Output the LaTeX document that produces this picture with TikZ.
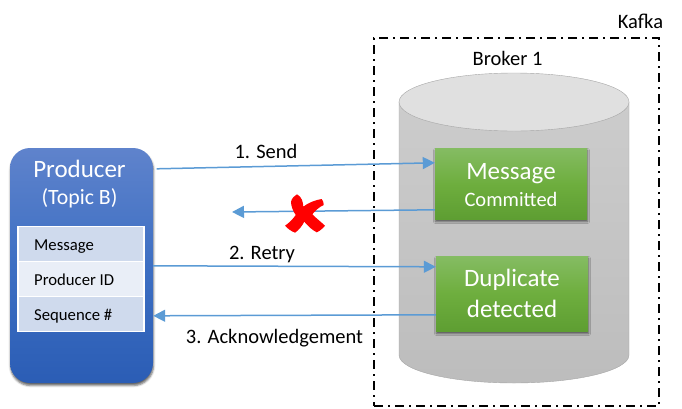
\documentclass[tikz,border=0pt]{standalone}
\usepackage{fontspec}
\setmainfont{Carlito}
\usetikzlibrary{arrows.meta,shadows.blur}

\tikzset{
  flowline/.style={draw=flowblue, line width=1.5pt, -{Triangle[length=12pt, width=12pt]}},
  softshadow/.style={blur shadow={shadow xshift=0.5pt, shadow yshift=-2.5pt, shadow blur radius=2pt, shadow opacity=60}},
  greenbox/.style={draw=none, minimum width=152pt, text=white, align=center, softshadow,
    top color=greentop, bottom color=greenbottom, middle color=greenmid, inner sep=0pt},
  fieldrow/.style={draw=white, line width=1.5pt, minimum width=126pt, minimum height=35pt, inner sep=0pt},
  flowlabel/.style={font=\fontsize{20.5}{24}\selectfont, inner sep=0pt, anchor=base},
  bigtext/.style={white, font=\fontsize{25}{30}\selectfont, inner sep=0pt, anchor=base},
  rowtext/.style={anchor=base west, font=\fontsize{16.7}{20}\selectfont, inner sep=0pt},
}
\definecolor{flowblue}{HTML}{5B9BD5}
\definecolor{greentop}{HTML}{85BC63}
\definecolor{greenmid}{HTML}{6EAE3E}
\definecolor{greenbottom}{HTML}{5E9E32}
\definecolor{prodtop}{HTML}{5F83CC}
\definecolor{prodmid}{HTML}{3D6FC3}
\definecolor{prodbottom}{HTML}{2B5DB5}
\definecolor{rowdark}{HTML}{CFDAED}
\definecolor{rowlight}{HTML}{E9EEF7}
\definecolor{drumedge}{HTML}{A6A6A6}

\begin{document}
\begin{tikzpicture}[x=1pt, y=-1pt]
        \useasboundingbox (0, 0) rectangle (682, 408);

        % kafka frame
        \node[draw, line width=2pt, dash pattern=on 9pt off 5pt on 2pt off 5pt, minimum width=285pt, minimum height=368pt, inner sep=0pt] (kafka) at (516.5, 222) {};
        \node[flowlabel] (kafkalabel) at (640.5, 28) {Kafka};
        \node[flowlabel] (brokerlabel) at (507.5, 65) {Broker 1};

        % broker drum
        \path[draw=drumedge, top color=black!20, bottom color=black!26] (399, 102) -- (399, 355) arc(180:0:115 and 28) -- (629, 102) -- cycle;
        \draw[draw=drumedge, fill=black!12] (514, 102) ellipse (115 and 29);

        % broker boxes
        \node[greenbox, minimum height=71pt] (message) at (511, 183.5) {};
        \node[bigtext] (messagetext) at (511, 179) {Message};
        \node[flowlabel, white] (committed) at (511, 206) {Committed};
        \node[greenbox, minimum height=75pt] (duplicate) at (512, 293.5) {};
        \node[bigtext] (duplicatetext) at (512, 286) {Duplicate};
        \node[bigtext] (detectedtext) at (512, 317) {detected};

        % producer
        \node[rounded corners=20pt, minimum width=143pt, minimum height=235pt, softshadow, inner sep=0pt,
              top color=prodtop, bottom color=prodbottom, middle color=prodmid] (producer) at (81.5, 265.5) {};
        \node[bigtext] (producertext) at (79.5, 177) {Producer};
        \node[white, font=\fontsize{21.8}{26}\selectfont, inner sep=0pt, anchor=base] (topic) at (79.5, 204) {(Topic B)};

        \node[fieldrow, fill=rowdark] (rowmessage) at (81, 244) {};
        \node[fieldrow, fill=rowlight] (rowid) at (81, 279) {};
        \node[fieldrow, fill=rowdark] (rowsequence) at (81, 314) {};
        \node[rowtext] (textmessage) at (34, 250) {Message};
        \node[rowtext] (textid) at (34, 285) {Producer ID};
        \node[rowtext] (textsequence) at (34, 320) {Sequence \#};

        % flows
        \coordinate (lost) at (232, 212);
        \draw[flowline] ([xshift=3.5pt, yshift=-21pt]producer.north east) -- ([yshift=-15pt]message.north west);
        \draw[flowline] ([yshift=-62pt]message.north west) -- (lost);
        \draw[flowline] ([yshift=-118pt]producer.north east) -- ([yshift=-11pt]duplicate.north west);
        \draw[flowline] ([yshift=-59pt]duplicate.north west) -- ([yshift=-168pt]producer.north east);

        \node[flowlabel] (sendlabel) at (266, 158) {1. Send};
        \node[flowlabel] (retrylabel) at (262, 259) {2. Retry};
        \node[flowlabel] (acklabel) at (274.5, 343) {3. Acknowledgement};

        % red cross
        \fill[red] (297, 194.3) .. controls (302, 197) and (303, 202) .. (303.3, 206.7)
          .. controls (308, 203) and (315, 200) .. (321.7, 199)
          .. controls (323, 201) and (324, 203) .. (323.7, 205)
          .. controls (319, 207) and (315, 211) .. (312.3, 214.3)
          .. controls (316, 218) and (321, 222) .. (325, 225.7)
          .. controls (323, 228) and (320, 231) .. (316.7, 232.3)
          .. controls (312, 230) and (308, 226) .. (304.3, 221.7)
          .. controls (302, 226) and (299, 230) .. (295, 232.7)
          .. controls (291, 231) and (288, 229) .. (285, 225.7)
          .. controls (289, 223) and (293, 219) .. (295.7, 215)
          .. controls (293, 211) and (291, 206) .. (291, 201.7)
          .. controls (292, 198) and (294, 196) .. (297, 194.3) -- cycle;
      \end{tikzpicture}
\end{document}
